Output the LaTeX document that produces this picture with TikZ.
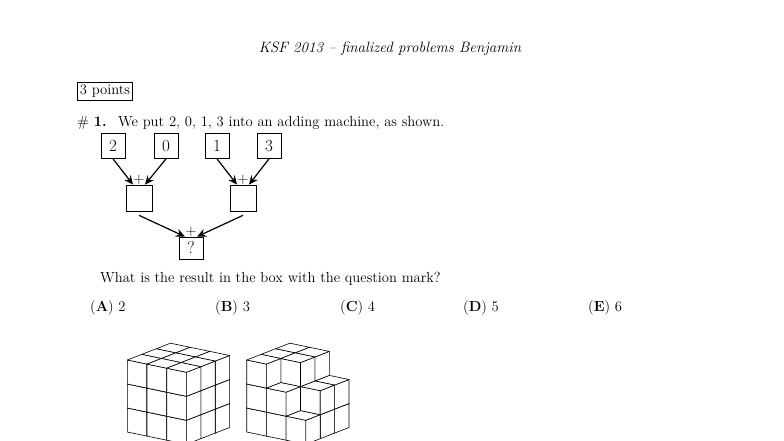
\documentclass[tikz,border=0pt]{standalone}
\usetikzlibrary{
    arrows.meta,
    positioning
}
\tikzset{
    txt/.style={
        inner sep=0pt,
        anchor=base west,
        font=\fontsize{14.6}{17}\selectfont
    },
    numbox/.style={
        draw,
        line width=0.7pt,
        minimum width  = 24pt,
        minimum height = 25pt,
        inner sep=0pt,
        font=\fontsize{17}{19}\selectfont
    },
    sumbox/.style={
        numbox,
        minimum width  = 26pt,
        minimum height = 26pt
    },
    plus/.style={
        inner sep=0pt,
        font=\fontsize{15}{16}\selectfont
    },
    feed/.style={
        -{Stealth[length=9pt,width=8pt]},
        line width=1.2pt
    },
    face/.style={
        draw,
        fill=white,
        line width=0.6pt,
        line join=round
    },
}
% one unit cube, visible faces only
\newcommand\unitcube[3]{
    \filldraw[face] (#1,#2,#3) -- ++(1,0,0) -- ++(0,0,1) -- ++(-1,0,0) -- cycle;
    \filldraw[face] (#1+1,#2,#3) -- ++(0,1,0) -- ++(0,0,1) -- ++(0,-1,0) -- cycle;
    \filldraw[face] (#1,#2,#3+1) -- ++(1,0,0) -- ++(0,1,0) -- ++(-1,0,0) -- cycle;
}
\begin{document}
\begin{tikzpicture}[x=1pt,y=1pt]
    \useasboundingbox (0,0) rectangle (784,441);
    \clip (0,0) rectangle (784,441);

    \node (title) [font=\fontsize{15}{17}\selectfont\itshape] at (390,392)
        {KSF 2013 -- finalized problems Benjamin};
    \node (pts) [draw, inner sep=2.5pt, font=\fontsize{14.6}{17}\selectfont] at (105,350) {3 points};

    \node (num) [txt] at (77,314) {\# \textbf{1.}};
    \node (que) [txt] at (118,314) {We put 2, 0, 1, 3 into an adding machine, as shown.};

    % the machine
    \node (in1) [numbox] at (113,295) {2};
    \node (in2) [numbox] at (166,295) {0};
    \node (in3) [numbox] at (217,295) {1};
    \node (in4) [numbox] at (269,295) {3};
    \node (sum1) [sumbox] at (139,243) {};
    \node (sum2) [sumbox] at (243,243) {};
    \node (res) [numbox, minimum height=22pt] at (191,193) {?};
    \node (p1) [plus, above=0pt of sum1] {+};
    \node (p2) [plus, above=0pt of sum2] {+};
    \node (p3) [plus, above=0pt of res] {+};

    \draw [feed] (in1.south) to ([xshift=-6pt]sum1.north);
    \draw [feed] (in2.south) to ([xshift=6pt]sum1.north);
    \draw [feed] (in3.south) to ([xshift=-6pt]sum2.north);
    \draw [feed] (in4.south) to ([xshift=6pt]sum2.north);
    \draw [feed] ([yshift=-4pt]sum1.south) to ([xshift=-6pt]res.north);
    \draw [feed] ([yshift=-4pt]sum2.south) to ([xshift=6pt]res.north);

    \node (ask) [txt] at (100,158) {What is the result in the box with the question mark?};
    \node (ansA) [txt] at (90,129) {(\textbf{A}) 2};
    \node (ansB) [txt] at (215,129) {(\textbf{B}) 3};
    \node (ansC) [txt] at (340,129) {(\textbf{C}) 4};
    \node (ansD) [txt] at (463,129) {(\textbf{D}) 5};
    \node (ansE) [txt] at (588,129) {(\textbf{E}) 6};

    % full block
    \begin{scope}[shift={(127.3,9)}, x={(19.7pt,-4.1pt)}, y={(14.4pt,5.6pt)}, z={(0pt,24pt)}]
        \foreach \c in {0,1,2}
            \foreach \b in {2,1,0}
                \foreach \a in {0,1,2}
                    \unitcube{\a}{\b}{\c};
    \end{scope}

    % stepped block
    \begin{scope}[shift={(246.7,9)}, x={(19.7pt,-4.1pt)}, y={(14.4pt,5.6pt)}, z={(0pt,24pt)}]
        \foreach \c/\b/\a in {0/2/0,0/2/1,0/2/2,0/1/0,0/1/1,0/1/2,0/0/0,0/0/1,0/0/2,
                              1/2/0,1/2/1,1/2/2,1/1/0,1/1/1,1/1/2,1/0/0,1/0/1,
                              2/2/0,2/2/1,2/1/0,2/1/1,2/0/0}
            \unitcube{\a}{\b}{\c};
    \end{scope}
\end{tikzpicture}
\end{document}
